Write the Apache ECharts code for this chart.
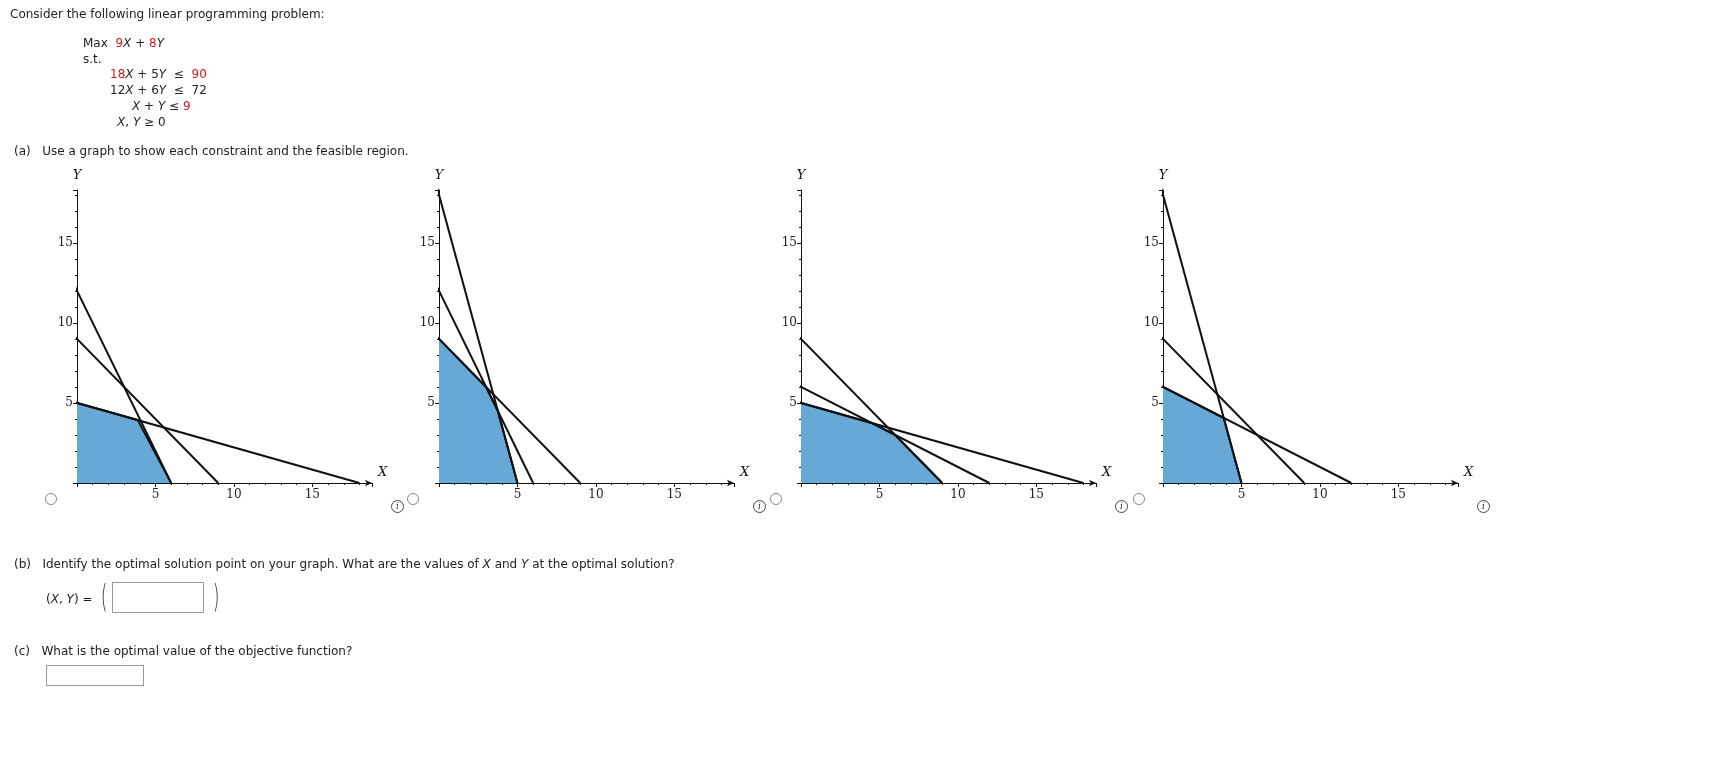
<!DOCTYPE html>
<html><head><meta charset="utf-8">
<script src="https://cdn.jsdelivr.net/npm/echarts@6/dist/echarts.min.js"></script>
<style>
body{margin:0;background:#fff;font-family:Verdana,"DejaVu Sans",sans-serif;font-size:12px;color:#222;}
.t{position:absolute;white-space:nowrap;line-height:14px}
.r{color:#c81e1e}
i{font-style:italic}
.radio{position:absolute;width:10px;height:10px;border:1px solid #888;border-radius:50%;background:#fff}
.info{position:absolute;width:11px;height:11px;border:1px solid #444;border-radius:50%;font:italic 9px "DejaVu Serif",serif;text-align:center;line-height:11px;color:#333}
.box{position:absolute;border:1px solid #999;background:#fff}
#c{position:absolute;left:0;top:0;width:1722px;height:782px}
</style></head><body>
<div id="c"></div>
<div class="t" style="left:10px;top:7px">Consider the following linear programming problem:</div>
<div class="t" style="left:83px;top:36px">Max&nbsp; <span class="r">9</span><i>X</i> + <span class="r">8</span><i>Y</i></div>
<div class="t" style="left:83px;top:52px">s.t.</div>
<div class="t" style="left:110px;top:67px"><span class="r">18</span><i>X</i> + 5<i>Y</i> &nbsp;≤&nbsp; <span class="r">90</span></div>
<div class="t" style="left:110px;top:83px">12<i>X</i> + 6<i>Y</i> &nbsp;≤&nbsp; 72</div>
<div class="t" style="left:132px;top:99px"><i>X</i> + <i>Y</i> ≤ <span class="r">9</span></div>
<div class="t" style="left:117px;top:115px"><i>X</i>, <i>Y</i> ≥ 0</div>
<div class="t" style="left:14px;top:144px">(a)&nbsp;&nbsp; Use a graph to show each constraint and the feasible region.</div>
<div class="t" style="left:14px;top:557px">(b)&nbsp;&nbsp; Identify the optimal solution point on your graph. What are the values of <i>X</i> and <i>Y</i> at the optimal solution?</div>
<div class="t" style="left:46px;top:592px">(<i>X</i>, <i>Y</i>) =</div>
<div class="t" style="left:98px;top:578px;font-size:32px;line-height:36px;font-weight:100;transform:scaleX(0.5)">(</div>
<div class="box" style="left:112px;top:582px;width:90px;height:29px"></div>
<div class="t" style="left:210px;top:578px;font-size:32px;line-height:36px;font-weight:100;transform:scaleX(0.5)">)</div>
<div class="t" style="left:14px;top:644px">(c)&nbsp;&nbsp; What is the optimal value of the objective function?</div>
<div class="box" style="left:46px;top:665px;width:96px;height:19px"></div>
<div class="radio" style="left:45px;top:493px"></div>
<div class="radio" style="left:407px;top:493px"></div>
<div class="radio" style="left:770px;top:493px"></div>
<div class="radio" style="left:1133px;top:493px"></div>
<div class="info" style="left:391px;top:500px">i</div>
<div class="info" style="left:753px;top:500px">i</div>
<div class="info" style="left:1115px;top:500px">i</div>
<div class="info" style="left:1477px;top:500px">i</div>
<script>
// constraint lines given as [x-intercept, y-intercept] per chart
const linesA = [[6,12],[9,9],[18,5]];
const linesB = [[5,18],[6,12],[9,9]];
const linesC = [[9,9],[12,6],[18,5]];
const linesD = [[5,18],[9,9],[12,6]];
// feasible region boundary (top edge, from y-axis to x-axis)
const regionA = [[0,5],[3.87,3.93],[6,0]];
const regionB = [[0,9],[3,6],[3.75,4.5],[5,0]];
const regionC = [[0,5],[4.5,3.75],[6,3],[9,0]];
const regionD = [[0,6],[3.87,4.06],[5,0]];
const xTicks = [5,10,15];
const yTicks = [5,10,15];
const allLines=[linesA,linesB,linesC,linesD], allRegions=[regionA,regionB,regionC,regionD];
const chart=echarts.init(document.getElementById('c'));
const grids=[],xAxes=[],yAxes=[],series=[];
const serif='"DejaVu Serif","Liberation Serif",serif';
for(let i=0;i<4;i++){
  grids.push({left:77+362*i,top:190,width:295,height:293});
  xAxes.push({type:'value',gridIndex:i,min:0,max:18.8,interval:5,name:'X',nameGap:6,
    nameTextStyle:{fontFamily:serif,fontStyle:'italic',fontSize:13,color:'#111',verticalAlign:'bottom',padding:[0,0,4,0]},
    axisLine:{lineStyle:{color:'#111',width:1},symbol:['none','arrow'],symbolSize:[5,7]},
    axisTick:{length:4,lineStyle:{color:'#111'}},minorTick:{show:true,splitNumber:5,length:2,lineStyle:{color:'#111'}},
    splitLine:{show:false},
    axisLabel:{fontFamily:serif,fontSize:12,color:'#222',margin:6,formatter:v=>xTicks.includes(v)?v:''}});
  yAxes.push({type:'value',gridIndex:i,min:0,max:18.3,interval:5,name:'Y',nameGap:8,
    nameTextStyle:{fontFamily:serif,fontStyle:'italic',fontSize:13,color:'#111'},
    axisLine:{lineStyle:{color:'#111',width:1}},
    axisTick:{length:4,lineStyle:{color:'#111'}},minorTick:{show:true,splitNumber:5,length:2,lineStyle:{color:'#111'}},
    splitLine:{show:false},
    axisLabel:{fontFamily:serif,fontSize:12,color:'#222',margin:4,formatter:v=>yTicks.includes(v)?v:''}});
  series.push({type:'line',xAxisIndex:i,yAxisIndex:i,data:allRegions[i],symbol:'none',
    lineStyle:{color:'#111',width:2},areaStyle:{color:'#66a9d6',opacity:1,origin:'start'},z:1});
  allLines[i].forEach(([xi,yi])=>{
    const x0=-0.25;
    series.push({type:'line',xAxisIndex:i,yAxisIndex:i,clip:false,symbol:'none',silent:true,
      data:[[x0,yi*(1-x0/xi)],[xi,0]],lineStyle:{color:'#111',width:2},z:3});
  });
}
chart.setOption({animation:false,grid:grids,xAxis:xAxes,yAxis:yAxes,series:series});
</script>
</body></html>
